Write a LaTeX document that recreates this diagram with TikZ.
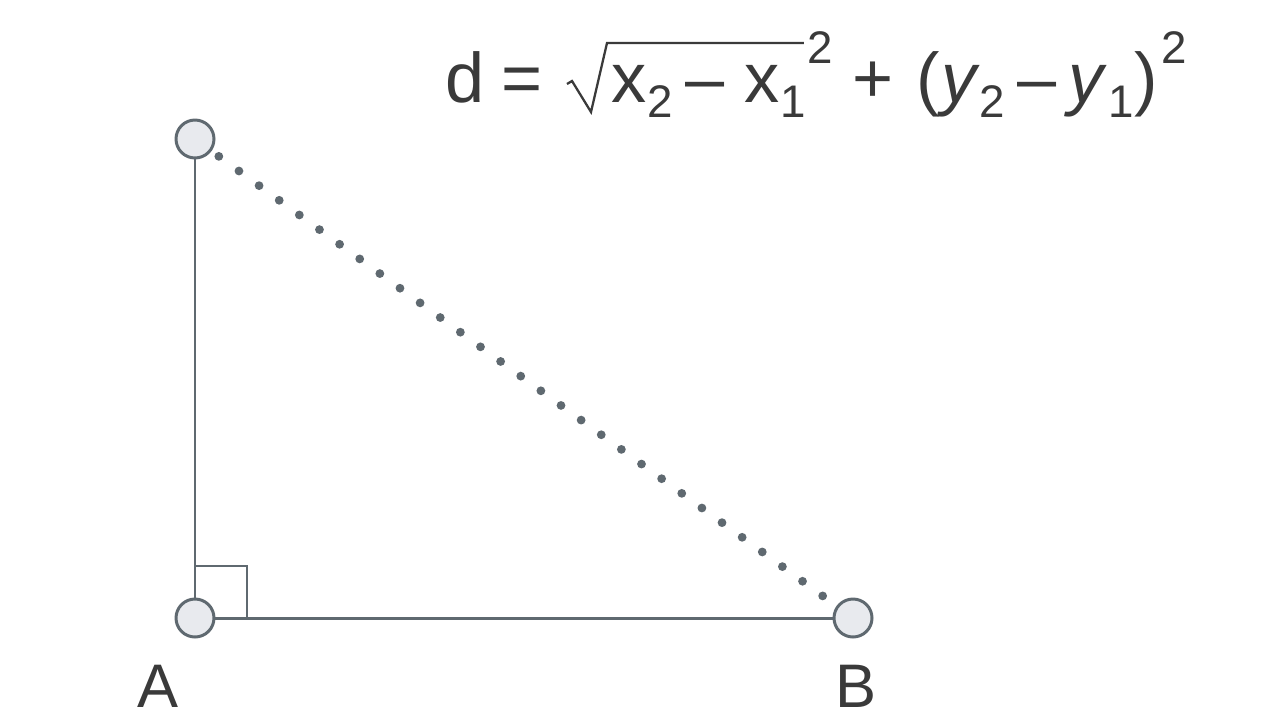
\documentclass[tikz,border=0pt]{standalone}
\usepackage{fontspec}
\setmainfont{Liberation Sans}
\usetikzlibrary{calc}
\definecolor{edgegray}{HTML}{5F6970}
\definecolor{dotfill}{HTML}{E8EAEE}
\definecolor{inkgray}{HTML}{3A3A3A}
\newlength\pxu
\setlength\pxu{0.02cm}
\newcommand\gap[1]{\hspace{#1\pxu}}
\newcommand\lowr[1]{\raisebox{-15\pxu}{\fontsize{26}{26}\selectfont #1}}
\newcommand\highr[1]{\raisebox{39\pxu}{\fontsize{26}{26}\selectfont #1}}
\tikzset{
 pt/.style={circle, draw=edgegray, fill=dotfill, line width=1.7pt, minimum size=0.76cm, inner sep=0},
 side/.style={edgegray, line width=1.7pt},
 lab/.style={text=inkgray, font=\fontsize{35}{40}\selectfont, anchor=base},
 formula/.style={text=inkgray, font=\fontsize{40}{48}\selectfont, anchor=base west, inner sep=0},
 radical/.style={inkgray, line width=1.3pt, line join=miter}
}
\begin{document}
\begin{tikzpicture}[x=0.02cm, y=-0.02cm]
\useasboundingbox (0,0) rectangle (1280,720);
% triangle
\coordinate (a0) at (195,618);
\draw[side, line width=1.1pt] ($(a0)+(0,-52)$) -| ($(a0)+(52,0)$);
\node[pt] (C) at (195,139) {};
\node[pt] (A) at (195,618) {};
\node[pt] (B) at (853,618) {};
\draw[side] (C) -- (A);
\draw[side] (A) -- (B);
\draw[edgegray, line width=5pt, line cap=round, dash pattern=on 0pt off 0.498cm, shorten <=0.18cm, shorten >=0.3cm] (C) -- (B);
\node[lab] (labA) at (158,707) {A};
\node[lab] (labB) at (856,707) {B};
% distance formula
\node[formula] (lhs) at (445,102) {d\gap{17}=};
\node[formula] (rad) at (611,102) {x\gap{1}\lowr{2}\gap{13}–\gap{20}x\lowr{1}};
\node[formula] (rest) at (807,102) {\highr{2}\gap{20}+\gap{23}(\gap{1}\textit{y}\lowr{2}\gap{12}–\gap{12}\textit{y}\gap{1}\lowr{1}\gap{1})\gap{4}\highr{2}};
\draw[radical] ($(rad.base west)+(-44,-18)$) -- ++(5,-3) -- ($(rad.base west)+(-20,10)$)
 -- ($(rad.base west)+(-4,-59)$) -- ($(rad.base east)+(-2,-59)$);
\end{tikzpicture}
\end{document}
